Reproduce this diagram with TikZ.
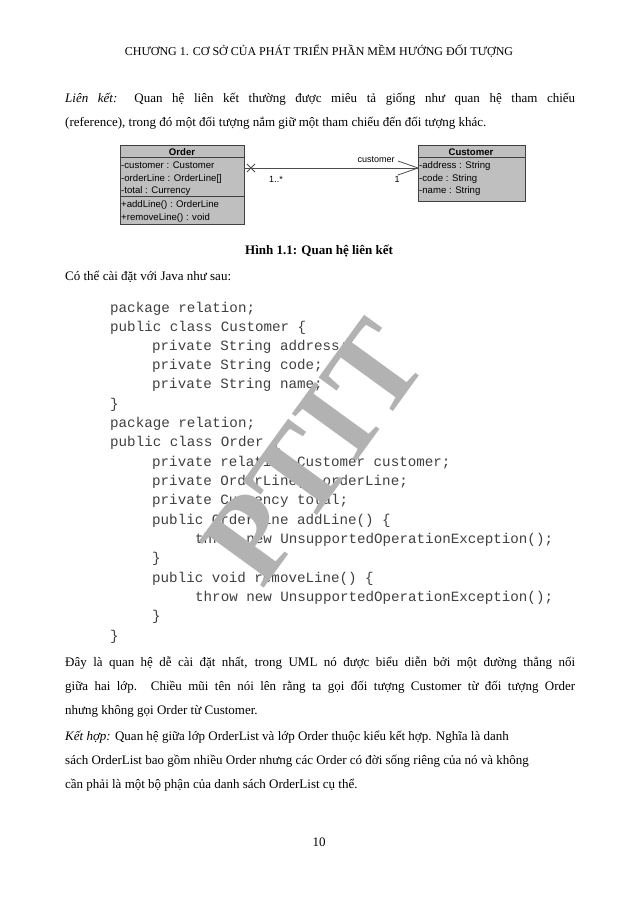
\documentclass[tikz,border=0pt]{standalone}
\usepackage{fontspec}
\setmainfont{Liberation Serif}
\setsansfont{Liberation Sans}
\setmonofont{Liberation Mono}
\usetikzlibrary{arrows.meta}
\begin{document}
\begin{tikzpicture}[x=1pt,y=-1pt,
  body/.style={anchor=base west,inner sep=0,font=\fontsize{13}{15}\selectfont},
  code/.style={anchor=base west,inner sep=0,font=\fontsize{14.2}{16}\ttfamily,text=black!75},
  uml/.style={draw=black!75,fill=black!25,line width=0.8pt},
  umlt/.style={anchor=base west,inner sep=0,font=\fontsize{9.6}{11}\sffamily},
  mult/.style={inner sep=0,font=\fontsize{9}{11}\sffamily}]
\useasboundingbox[fill=white] (0,0) rectangle (638,907);
\node[inner sep=0,anchor=base,font=\fontsize{12}{14}\selectfont] (hdr) at (319,56) {CHƯƠNG 1. CƠ SỞ CỦA PHÁT TRIỂN PHẦN MỀM HƯỚNG ĐỐI TƯỢNG};
\node[body] (p1) at (65,102) {\makebox[510pt][s]{\textit{Liên kết:} Quan hệ liên kết thường được miêu tả giống như quan hệ tham chiếu}};
\node[body] (p2) at (65,126) {(reference), trong đó một đối tượng nắm giữ một tham chiếu đến đối tượng khác.};
% UML
\draw[uml] (120,145) rectangle (244,224);
\draw[black!75,line width=0.8pt] (120,157)--(244,157) (120,196)--(244,196);
\node[umlt,anchor=base,font=\fontsize{9.6}{11}\sffamily\bfseries] (on) at (182,155) {Order};
\node[umlt] (o1) at (121,168) {-customer : Customer};
\node[umlt] (o2) at (121,181) {-orderLine : OrderLine[]};
\node[umlt] (o3) at (121,193) {-total : Currency};
\node[umlt] (o4) at (121,207) {+addLine() : OrderLine};
\node[umlt] (o5) at (121,220) {+removeLine() : void};
\draw[uml] (418,145) rectangle (525,201);
\draw[black!75,line width=0.8pt] (418,157)--(525,157);
\node[umlt,anchor=base,font=\fontsize{9.6}{11}\sffamily\bfseries] (cn) at (471,155) {Customer};
\node[umlt] (c1) at (419,168) {-address : String};
\node[umlt] (c2) at (419,181) {-code : String};
\node[umlt] (c3) at (419,193) {-name : String};
\coordinate (oe) at (244,168);
\coordinate (ce) at (418,168);
\draw[black!70,line width=0.8pt] (oe) -- (ce);
\draw[black!70,line width=0.8pt] (398,161)--(ce)--(398,175);
\draw[black!70,line width=0.8pt] (247,164)--(255,172) (247,172)--(255,164);
\node[mult] (lc) at (376,160) {customer};
\node[mult] (m1) at (276,179) {1..*};
\node[mult] (m2) at (397,179) {1};
\node[inner sep=0,anchor=base,font=\fontsize{13}{15}\selectfont\bfseries] (cap) at (319,254) {Hình 1.1: Quan hệ liên kết};
\node[body] (p3) at (65,280) {Có thể cài đặt với Java như sau:};
% code
\node[code] at (110,312) {package relation;};
\node[code] at (110,331) {public class Customer \{};
\node[code] at (152,350) {private String address;};
\node[code] at (152,369) {private String code;};
\node[code] at (152,388) {private String name;};
\node[code] at (110,408) {\}};
\node[code] at (110,427) {package relation;};
\node[code] at (110,446) {public class Order \{};
\node[code] at (152,466) {private relation.Customer customer;};
\node[code] at (152,485) {private OrderLine[] orderLine;};
\node[code] at (152,504) {private Currency total;};
\node[code] at (152,524) {public OrderLine addLine() \{};
\node[code] at (195,543) {throw new UnsupportedOperationException();};
\node[code] at (152,562) {\}};
\node[code] at (152,582) {public void removeLine() \{};
\node[code] at (195,601) {throw new UnsupportedOperationException();};
\node[code] at (152,620) {\}};
\node[code] at (110,640) {\}};
% watermark
\node[inner sep=0,rotate=54,text=black!30,font=\fontsize{122}{122}\selectfont\bfseries] (wm) at (314,452) {PTIT};
% paragraphs
\node[body] at (65,666) {\makebox[510pt][s]{Đây là quan hệ dễ cài đặt nhất, trong UML nó được biểu diễn bởi một đường thẳng nối}};
\node[body] at (65,690) {\makebox[510pt][s]{giữa hai lớp. Chiều mũi tên nói lên rằng ta gọi đối tượng Customer từ đối tượng Order}};
\node[body] at (65,714) {nhưng không gọi Order từ Customer.};
\node[body] at (65,740) {\textit{Kết hợp:} Quan hệ giữa lớp OrderList và lớp Order thuộc kiểu kết hợp. Nghĩa là danh};
\node[body] at (65,764) {sách OrderList bao gồm nhiều Order nhưng các Order có đời sống riêng của nó và không};
\node[body] at (65,788) {cần phải là một bộ phận của danh sách OrderList cụ thể.};
\node[inner sep=0,anchor=base,font=\fontsize{13}{15}\selectfont] (pg) at (319,846) {10};
\end{tikzpicture}
\end{document}
